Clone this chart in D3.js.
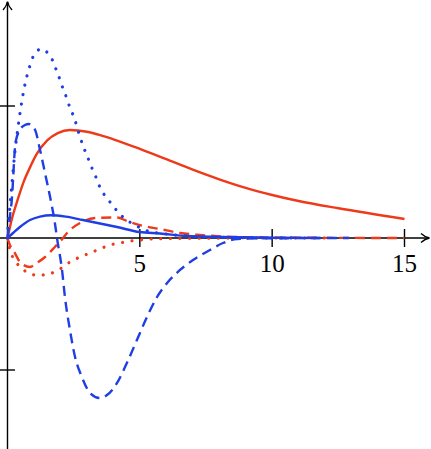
<!DOCTYPE html>
<html>
<head>
<meta charset="utf-8">
<script src="https://cdn.jsdelivr.net/npm/d3@7"></script>
<style>
  body { margin: 0; background: #fff; }
  svg { display: block; }
</style>
</head>
<body>
<svg width="431" height="449"></svg>
<script>
var svg = d3.select("svg"),
    width = +svg.attr("width"),
    height = +svg.attr("height");

// tick labels on x, unlabeled ticks on y
var xTicks = [5, 10, 15];
var yTicks = [-1, 1];

// curves: [t, value]
var redSolid = [[0,0],[0.1,0.09],[0.2,0.17],[0.4,0.30],[0.6,0.42],[0.85,0.535],[1.1,0.635],
  [1.5,0.74],[1.9,0.795],[2.36,0.818],[3.0,0.805],[3.5,0.78],[4.0,0.748],[5.0,0.675],
  [6.0,0.597],[7.0,0.518],[8.0,0.445],[9.0,0.38],[10,0.326],[11,0.28],[12.5,0.225],[15,0.144]];
var redDashed = [[0,0],[0.09,-0.053],[0.28,-0.114],[0.47,-0.182],[0.85,-0.22],[1.11,-0.189],
  [1.42,-0.144],[1.79,-0.068],[2.10,0],[2.25,0.038],[2.74,0.114],[3.38,0.152],[4.14,0.155],
  [4.51,0.129],[5.0,0.098],[5.76,0.068],[6.52,0.038],[7.27,0.023],[8.52,0.008],[10,0.003],[15,0]];
var redDotted = [[0,0],[0.09,-0.09],[0.28,-0.167],[0.47,-0.22],[0.74,-0.258],[1.04,-0.28],
  [1.42,-0.28],[1.68,-0.265],[1.98,-0.235],[2.36,-0.182],[2.74,-0.144],[3.12,-0.114],
  [3.49,-0.083],[3.87,-0.053],[4.25,-0.038],[4.63,-0.023],[5.0,-0.015],[5.38,-0.008],
  [7,-0.002],[10,0],[12,0]];
var blueSolid = [[0,0],[0.21,0.038],[0.47,0.083],[0.85,0.136],[1.23,0.162],[1.65,0.172],
  [2.2,0.162],[2.85,0.136],[4.14,0.083],[5.0,0.045],[5.76,0.034],[6.78,0.015],[8.03,0.008],
  [10,0.003],[11.8,0]];
var blueDashed = [[0,0],[0.09,0.159],[0.17,0.31],[0.21,0.44],[0.25,0.59],[0.30,0.72],
  [0.47,0.82],[0.66,0.856],[0.81,0.864],[0.96,0.84],[1.04,0.82],[1.23,0.667],[1.42,0.49],
  [1.61,0.31],[1.79,0.114],[1.87,0],[2.06,-0.242],[2.17,-0.447],[2.36,-0.697],[2.55,-0.90],
  [2.81,-1.053],[3.12,-1.174],[3.49,-1.212],[3.76,-1.19],[4.14,-1.098],[4.51,-0.947],
  [4.89,-0.773],[5.27,-0.598],[5.65,-0.447],[6.03,-0.341],[6.52,-0.242],[7.01,-0.167],
  [7.65,-0.091],[8.14,-0.038],[8.67,-0.008],[9.5,-0.003],[12.9,0]];
var blueDotted = [[0,0],[0.02,0.083],[0.09,0.235],[0.17,0.417],[0.28,0.65],[0.43,0.886],
  [0.55,1.045],[0.70,1.20],[0.81,1.28],[0.93,1.356],[1.11,1.415],[1.28,1.432],[1.45,1.415],
  [1.68,1.356],[1.83,1.28],[1.98,1.20],[2.10,1.13],[2.25,1.053],[2.36,0.985],[2.51,0.917],
  [2.63,0.84],[2.74,0.765],[2.89,0.68],[3.04,0.606],[3.19,0.53],[3.34,0.462],[3.49,0.386],
  [3.72,0.31],[3.95,0.255],[4.17,0.197],[4.51,0.136],[4.89,0.09],[5.19,0.06],[6,0.03],
  [7,0.012],[8,0.005],[11,0]];

var red = "#ee3a1a", blue = "#1f3ee4";

var x = d3.scaleLinear().domain([0, 15]).range([7.5, 404.5]);
var y = d3.scaleLinear().domain([-1, 1]).range([370, 106]);

// axes
var axes = svg.append("g").attr("stroke", "#000").attr("stroke-width", 1.4).attr("fill", "none");
axes.append("line").attr("x1", 0).attr("x2", 428).attr("y1", y(0)).attr("y2", y(0));
axes.append("line").attr("x1", x(0)).attr("x2", x(0)).attr("y1", height).attr("y2", 2);
// latex style arrow heads
axes.append("path")
  .attr("d", "M" + (x(0) - 4.5) + ",10 Q" + (x(0) - 0.8) + ",6 " + x(0) + ",1.5 Q" + (x(0) + 0.8) + ",6 " + (x(0) + 4.5) + ",10");
axes.append("path")
  .attr("d", "M421," + (y(0) - 4.5) + " Q425," + (y(0) - 0.8) + " 429.5," + y(0) + " Q425," + (y(0) + 0.8) + " 421," + (y(0) + 4.5));

axes.selectAll(".xt").data(xTicks).enter().append("line")
  .attr("x1", function(d) { return x(d); }).attr("x2", function(d) { return x(d); })
  .attr("y1", y(0) - 9).attr("y2", y(0) + 9);
axes.selectAll(".yt").data(yTicks).enter().append("line")
  .attr("x1", x(0) - 7.5).attr("x2", x(0) + 7.5)
  .attr("y1", function(d) { return y(d); }).attr("y2", function(d) { return y(d); });

svg.selectAll(".xl").data(xTicks).enter().append("text")
  .attr("x", function(d) { return x(d); })
  .attr("y", 272)
  .attr("text-anchor", "middle")
  .style("font-family", "'Liberation Serif', 'DejaVu Serif', serif")
  .style("font-size", "25px")
  .text(function(d) { return d; });

var line = d3.line()
  .x(function(d) { return x(d[0]); })
  .y(function(d) { return y(d[1]); })
  .curve(d3.curveMonotoneX);

var curves = [
  { data: redSolid, color: red, dash: null },
  { data: redDashed, color: red, dash: "10,6" },
  { data: redDotted, color: red, dash: "0.01,9.6" },
  { data: blueSolid, color: blue, dash: null },
  { data: blueDashed, color: blue, dash: "10,6" },
  { data: blueDotted, color: blue, dash: "0.01,9.6" }
];

svg.selectAll(".curve").data(curves).enter().append("path")
  .attr("class", "curve")
  .attr("d", function(d) { return line(d.data); })
  .attr("fill", "none")
  .attr("stroke", function(d) { return d.color; })
  .attr("stroke-width", function(d) { return d.dash && d.dash[0] === "0" ? 3.2 : 2.4; })
  .attr("stroke-linecap", function(d) { return d.dash && d.dash[0] === "0" ? "round" : "butt"; })
  .attr("stroke-dasharray", function(d) { return d.dash; });
</script>
</body>
</html>
